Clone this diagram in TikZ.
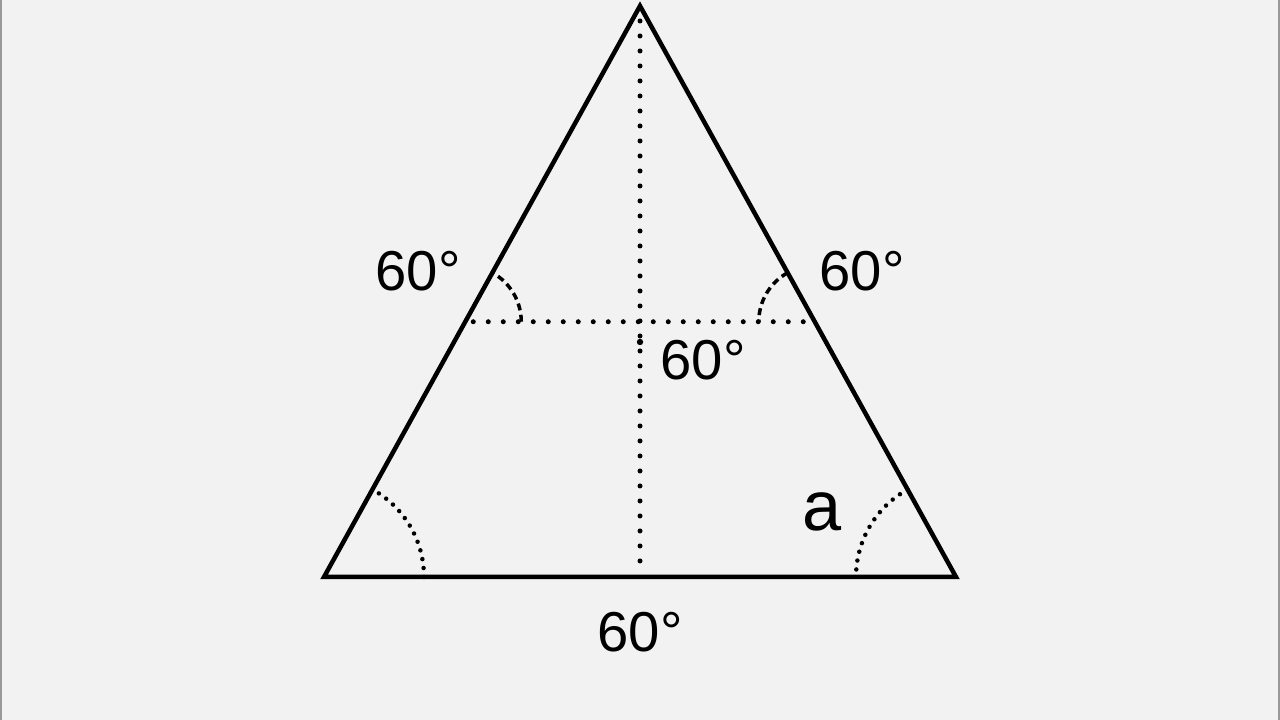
\documentclass[tikz,border=0pt]{standalone}
\usepackage{fontspec}
\setmainfont{Liberation Sans}
\usetikzlibrary{calc,angles,positioning}

\begin{document}
\begin{tikzpicture}[side/.style={line width=0.045cm,line join=miter},
  dotline/.style={line width=0.05cm,line cap=round,dash pattern=on 0pt off 0.15cm},
  dotarc/.style={draw,line width=0.045cm,line cap=round,dash pattern=on 0pt off 0.09cm},
  dasharc/.style={draw,line width=0.035cm,dash pattern=on 0.07cm off 0.045cm},
  deg label/.style={font=\fontsize{16}{19}\selectfont,inner sep=0pt},
  side label/.style={font=\fontsize{20}{24}\selectfont,inner sep=0pt}]

  % background and frame
  \fill[white!95!black] (0,0) rectangle (12.8,7.2);
  \useasboundingbox (0,0) rectangle (12.8,7.2);
  \draw[gray!80,line width=0.02cm] (0.01,0) -- (0.01,7.2);
  \draw[gray!80,line width=0.02cm] (12.79,0) -- (12.79,7.2);

  % corners and helper points
  \coordinate (A) at (6.40,7.14);
  \coordinate (B) at (3.24,1.43);
  \coordinate (C) at (9.56,1.43);
  \coordinate (P) at ($(B)!0.447!(A)$);
  \coordinate (Q) at ($(C)!0.447!(A)$);
  \coordinate (F) at (6.40,1.43);
  \coordinate (O) at (6.40,3.78);

  % dotted helper lines
  \draw[dotline,shorten <=0.08cm,shorten >=0.07cm] (P) -- (Q);
  \draw[dotline,shorten <=0.15cm,shorten >=0.08cm] (A) -- (F);
  \fill (O) circle (0.032);

  % angle marks
  \pic[dasharc,angle radius=0.56cm] {angle=Q--P--A};
  \pic[dasharc,angle radius=0.56cm] {angle=A--Q--P};
  \pic[dotarc,angle radius=1.0cm] {angle=C--B--A};
  \pic[dotarc,angle radius=1.0cm] {angle=A--C--B};

  % triangle
  \draw[side] (A) -- (B) -- (C) -- cycle;

  % labels
  \node[deg label] (l1) at (4.18,4.49) {60°};
  \node[deg label] (l2) at (8.62,4.49) {60°};
  \node[deg label] (l3) at (7.03,3.60) {60°};
  \node[deg label] (l4) at (6.40,0.88) {60°};
  \node[side label] (la) at (8.22,2.08) {a};
\end{tikzpicture}
\end{document}
